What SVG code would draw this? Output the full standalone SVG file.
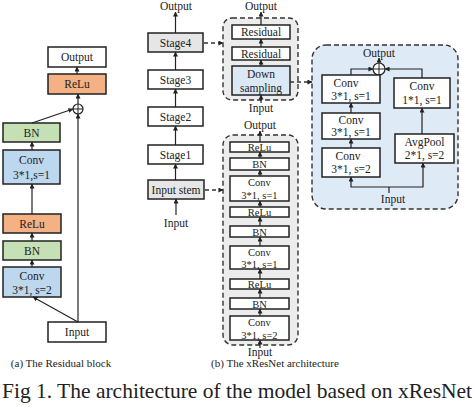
<svg xmlns="http://www.w3.org/2000/svg" width="474" height="407" viewBox="0 0 474 407">
<defs>
<style>
text{font-family:"Liberation Serif","Times New Roman",serif;fill:#222;text-anchor:middle}
.b{stroke:#222;stroke-width:1.5;fill:#fff}
.g{fill:#e6e6e6}
.or{fill:#f4b183}
.gr{fill:#c5e0b4}
.bl{fill:#bdd7ee}
.lb{fill:#dbe8f6}
.dash{fill:#ececec;stroke:#333;stroke-width:1.4;stroke-dasharray:5,3}
.dashb{fill:#deebf7;stroke:#333;stroke-width:1.4;stroke-dasharray:5,3}
.c{stroke:#222;stroke-width:1.2;fill:none}
.a{marker-end:url(#ar)}
.dl{stroke:#333;stroke-width:1.4;fill:none;stroke-dasharray:4,3;marker-end:url(#ar)}
.t11{font-size:11.5px}
.t10{font-size:10.5px}
</style>
<marker id="ar" viewBox="0 0 6 6" refX="5.5" refY="3" markerWidth="5" markerHeight="5" orient="auto" markerUnits="userSpaceOnUse">
<path d="M0,0 L6,3 L0,6 z" fill="#222"/>
</marker>
</defs>
<rect width="474" height="407" fill="#fff"/>

<!-- (a) residual block -->
<g id="a-output"><rect class="b" x="48" y="47" width="58" height="20"/><text class="t11" x="77" y="61">Output</text></g>
<g id="a-relu2"><rect class="b or" x="48" y="74" width="58" height="20"/><text class="t11" x="77" y="88">ReLu</text></g>
<g id="a-add"><circle cx="78" cy="109" r="5" fill="#fff" stroke="#222" stroke-width="1.2"/><path d="M73,109 H83 M78,104 V114" stroke="#222" stroke-width="1"/></g>
<g id="a-bn2"><rect class="b gr" x="3" y="123" width="57" height="19"/><text class="t11" x="31.5" y="136.5">BN</text></g>
<g id="a-conv2"><rect class="b bl" x="3" y="150" width="57" height="34"/><text class="t11" x="31.5" y="164">Conv</text><text class="t11" x="31.5" y="179">3*1,s=1</text></g>
<g id="a-relu1"><rect class="b or" x="3" y="214" width="58" height="19"/><text class="t11" x="32" y="227.5">ReLu</text></g>
<g id="a-bn1"><rect class="b gr" x="3" y="241" width="58" height="19"/><text class="t11" x="32" y="254.5">BN</text></g>
<g id="a-conv1"><rect class="b bl" x="3" y="267" width="58" height="30"/><text class="t11" x="32" y="280">Conv</text><text class="t11" x="32" y="294">3*1, s=2</text></g>
<g id="a-input"><rect class="b" x="48" y="322" width="58" height="20"/><text class="t11" x="77" y="336">Input</text></g>

<!-- (b) stages -->
<text class="t11" x="176" y="10">Output</text>
<g id="stage4"><rect class="b g" x="148" y="33" width="55" height="19"/><text class="t11" x="175.5" y="46.5">Stage4</text></g>
<g id="stage3"><rect class="b" x="148" y="70" width="55" height="19"/><text class="t11" x="175.5" y="83.5">Stage3</text></g>
<g id="stage2"><rect class="b" x="148" y="107" width="55" height="19"/><text class="t11" x="175.5" y="120.5">Stage2</text></g>
<g id="stage1"><rect class="b" x="148" y="145" width="55" height="19"/><text class="t11" x="175.5" y="158.5">Stage1</text></g>
<g id="input-stem"><rect class="b g" x="148" y="180" width="56" height="19"/><text class="t11" x="176" y="193.5">Input stem</text></g>
<text class="t11" x="176" y="227">Input</text>

<!-- stage4 detail -->
<g id="stage4-detail">
<rect class="dash" x="223" y="18" width="75" height="82" rx="9"/>
<text class="t11" x="261" y="10">Output</text>
<g id="residual1"><rect class="b" x="232" y="25" width="58" height="14"/><text class="t11" x="261" y="36">Residual</text></g>
<g id="residual2"><rect class="b" x="232" y="47" width="58" height="13"/><text class="t11" x="261" y="57.5">Residual</text></g>
<g id="downsampling"><rect class="b lb" x="232" y="66" width="58" height="29"/><text class="t11" x="261" y="78">Down</text><text class="t11" x="261" y="91.5">sampling</text></g>
<text class="t11" x="261" y="112">Input</text>
</g>

<!-- downsampling detail -->
<g id="downsampling-detail">
<rect class="dashb" x="312" y="45" width="146" height="164" rx="14"/>
<text class="t11" x="379" y="57">Output</text>
<g id="ds-add"><circle cx="379" cy="69" r="6" fill="#fff" stroke="#222" stroke-width="1.2"/><path d="M373,69 H385 M379,63 V75" stroke="#222" stroke-width="1"/></g>
<g id="ds-conv3"><rect class="b" x="322" y="75" width="58" height="28"/><text class="t11" x="346" y="87">Conv</text><text class="t11" x="351" y="100">3*1, s=1</text></g>
<g id="ds-conv2"><rect class="b" x="322" y="113" width="58" height="26"/><text class="t11" x="351" y="124">Conv</text><text class="t11" x="351" y="136">3*1, s=1</text></g>
<g id="ds-conv1"><rect class="b" x="322" y="148" width="58" height="29"/><text class="t11" x="348" y="160">Conv</text><text class="t11" x="351" y="173">3*1, s=2</text></g>
<g id="ds-conv11"><rect class="b" x="394" y="78" width="56" height="30"/><text class="t11" x="422" y="90">Conv</text><text class="t11" x="422" y="104">1*1, s=1</text></g>
<g id="ds-avgpool"><rect class="b" x="395" y="134" width="59" height="29"/><text class="t11" x="424.5" y="146">AvgPool</text><text class="t11" x="424.5" y="159">2*1, s=2</text></g>
<text class="t11" x="393" y="203">Input</text>
</g>

<!-- stem detail -->
<g id="stem-detail">
<rect class="dash" x="223" y="135" width="75" height="210" rx="10"/>
<text class="t11" x="260" y="129">Output</text>
<g id="st-relu3"><rect class="b" x="230" y="142" width="59" height="10"/><text class="t10" x="259.5" y="151">ReLu</text></g>
<g id="st-bn3"><rect class="b" x="230" y="158" width="59" height="12"/><text class="t10" x="259.5" y="168">BN</text></g>
<g id="st-conv3"><rect class="b" x="230" y="176" width="59" height="25"/><text class="t10" x="259.5" y="186">Conv</text><text class="t10" x="259.5" y="199">3*1, s=1</text></g>
<g id="st-relu2"><rect class="b" x="230" y="207" width="59" height="10"/><text class="t10" x="259.5" y="216">ReLu</text></g>
<g id="st-bn2"><rect class="b" x="230" y="226" width="59" height="11"/><text class="t10" x="259.5" y="235.5">BN</text></g>
<g id="st-conv2"><rect class="b" x="230" y="246" width="59" height="23"/><text class="t10" x="259.5" y="256">Conv</text><text class="t10" x="259.5" y="268">3*1, s=1</text></g>
<g id="st-relu1"><rect class="b" x="230" y="279" width="59" height="10"/><text class="t10" x="259.5" y="288">ReLu</text></g>
<g id="st-bn1"><rect class="b" x="230" y="298" width="59" height="11"/><text class="t10" x="259.5" y="307.5">BN</text></g>
<g id="st-conv1"><rect class="b" x="230" y="316" width="59" height="24"/><text class="t10" x="259.5" y="326">Conv</text><text class="t10" x="259.5" y="339">3*1, s=2</text></g>
<text class="t11" x="260" y="356">Input</text>
</g>

<!-- connectors -->
<g id="connectors">
<path class="c a" d="M77,74 V67"/>
<path class="c a" d="M78,104 V94"/>
<path class="c a" d="M32,123 L73,109"/>
<path class="c a" d="M78,322 V114"/>
<path class="c a" d="M32,150 V142"/>
<path class="c a" d="M32,214 V184"/>
<path class="c a" d="M32,241 V233"/>
<path class="c a" d="M32,267 V260"/>
<path class="c a" d="M78,322 L33,297"/>

<path class="c a" d="M175.5,33 V12"/>
<path class="c a" d="M175.5,70 V52"/>
<path class="c a" d="M175.5,107 V89"/>
<path class="c a" d="M175.5,145 V126"/>
<path class="c a" d="M175.5,180 V164"/>
<path class="c a" d="M176,215 V199"/>
<path class="dl" d="M204,43 H223"/>
<path class="dl" d="M205,190 H223"/>
<path class="dl" d="M290,82 H312"/>

<path class="c a" d="M261,25 V12"/>
<path class="c a" d="M261,47 V39"/>
<path class="c a" d="M261,66 V60"/>
<path class="c a" d="M261,103 V95"/>

<path class="c a" d="M379,63 V58"/>
<path class="c a" d="M351,75 V69 H373"/>
<path class="c a" d="M422,78 V69 H385"/>
<path class="c a" d="M351,113 V103"/>
<path class="c a" d="M351,148 V139"/>
<path class="c a" d="M422,134 V108"/>
<path class="c" d="M389,193 V187"/>
<path class="c a" d="M389,187 H351 V177"/>
<path class="c a" d="M389,187 H423 V163"/>

<path class="c a" d="M260,142 V131"/>
<path class="c a" d="M260,158 V152"/>
<path class="c a" d="M260,176 V170"/>
<path class="c a" d="M260,207 V201"/>
<path class="c a" d="M260,226 V217"/>
<path class="c a" d="M260,246 V237"/>
<path class="c a" d="M260,279 V269"/>
<path class="c a" d="M260,298 V289"/>
<path class="c a" d="M260,316 V309"/>
<path class="c a" d="M260,348 V340"/>
</g>

<!-- captions -->
<text x="61" y="367" style="font-size:11px">(a) The Residual block</text>
<text x="275" y="367" style="font-size:11px">(b) The xResNet architecture</text>
<text x="237" y="398" style="font-size:21.5px">Fig 1. The architecture of the model based on xResNet</text>
</svg>
